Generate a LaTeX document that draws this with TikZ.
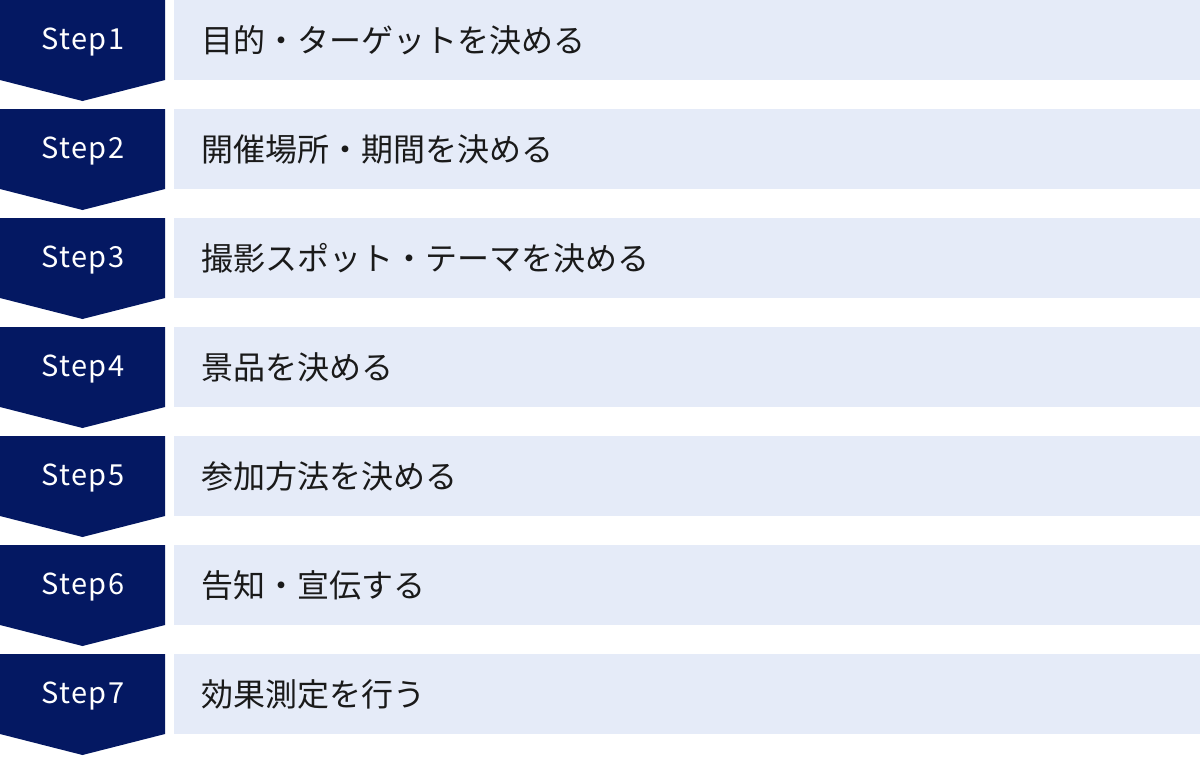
\documentclass[tikz,border=0pt]{standalone}
\usepackage{fontspec}
\setmainfont{Noto Sans CJK JP}
\newfontfamily\stepfont[LetterSpace=5]{Noto Sans CJK JP}
\definecolor{navy}{HTML}{041862}
\definecolor{lightbar}{HTML}{E5EBF8}
\definecolor{txt}{HTML}{1A1A1A}
\tikzset{
  steplabel/.style={text=white,font=\stepfont\fontsize{29}{34}\selectfont,inner sep=0pt},
  bartext/.style={text=txt,font=\fontsize{32}{36}\selectfont,inner sep=0pt,anchor=west},
}
\begin{document}
\begin{tikzpicture}[x=1pt,y=-1pt]
\useasboundingbox (0,0) rectangle (1200,756);
\foreach \i/\t in {1/目的・ターゲットを決める,2/開催場所・期間を決める,3/撮影スポット・テーマを決める,4/景品を決める,5/参加方法を決める,6/告知・宣伝する,7/効果測定を行う}{
  \pgfmathsetmacro{\yy}{(\i-1)*109}
  \fill[navy] (0,\yy) -- (165,\yy) -- (165,\yy+80) -- (82.5,\yy+101) -- (0,\yy+80) -- cycle;
  \fill[lightbar] (174,\yy) rectangle (1200,\yy+80);
  \node[steplabel] (s\i) at (83,\yy+42) {Step\i};
  \node[bartext] (t\i) at (201,\yy+40) {\t};
}
\end{tikzpicture}
\end{document}
